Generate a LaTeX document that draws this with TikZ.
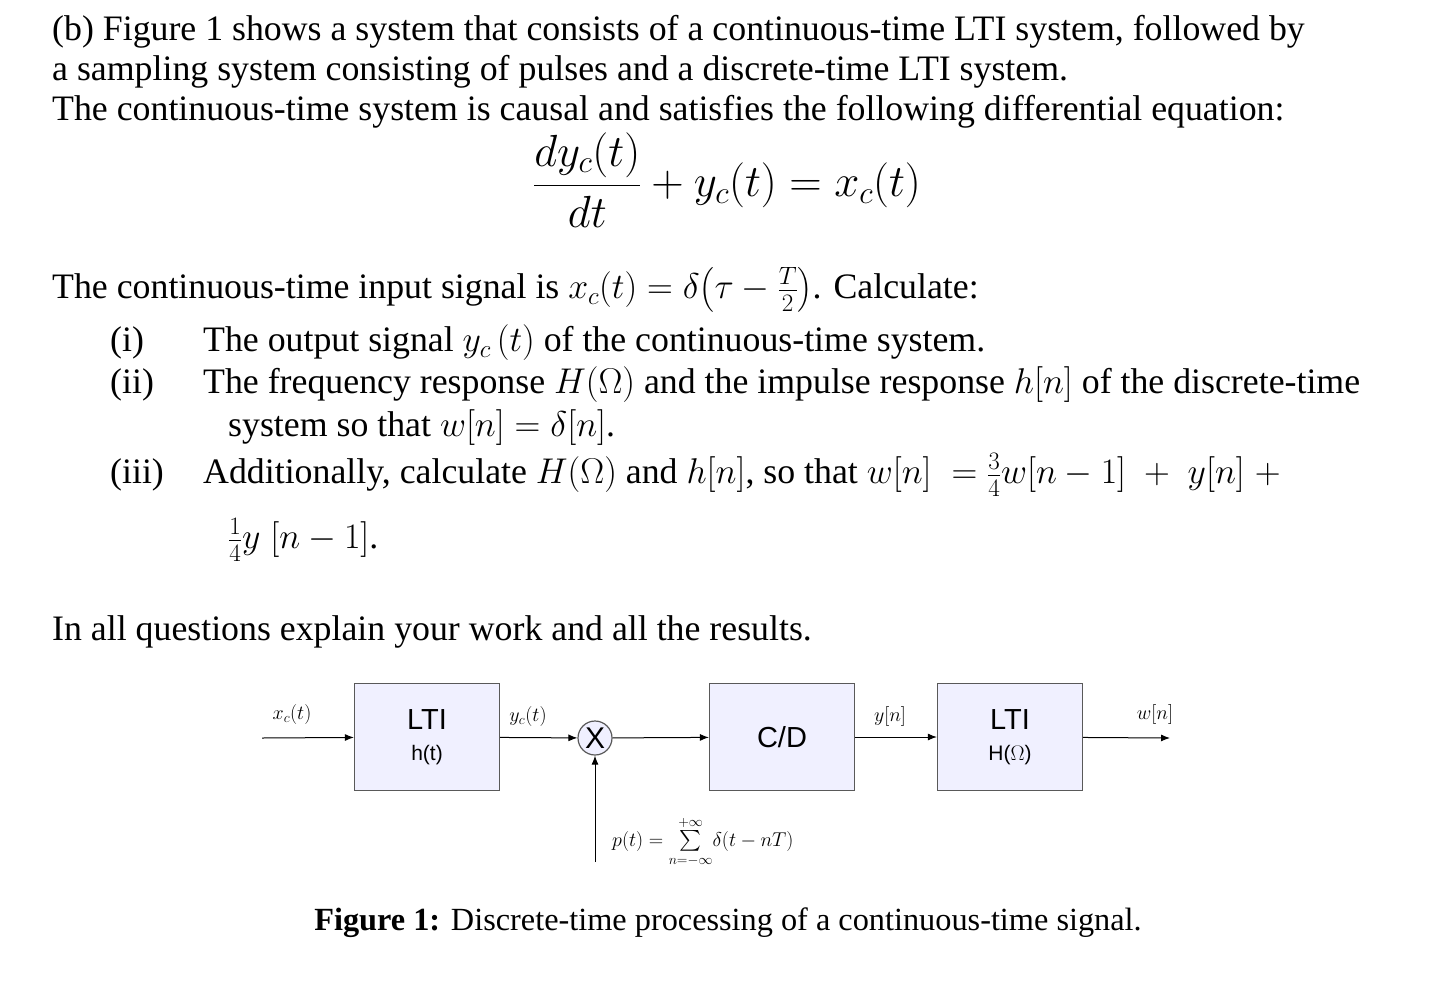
\RequirePackage{fix-cm}
\documentclass[tikz,border=0pt]{standalone}
\usepackage{amsmath}
\usepackage{fontspec}
\setmainfont{Liberation Serif}
\setsansfont{Liberation Sans}
\usetikzlibrary{arrows.meta}
\begin{document}
\begin{tikzpicture}[x=1pt,y=-1pt,
  txt/.style={anchor=west,inner sep=0pt,font=\fontsize{35.8}{40}\selectfont},
  blk/.style={draw=gray!70!black,fill=blue!6,line width=1.2pt,minimum width=145pt,minimum height=107pt,font=\sffamily\fontsize{29}{33}\selectfont,align=center},
  sig/.style={font=\fontsize{20}{24}\selectfont,inner sep=0pt},
  arr/.style={-{Latex[length=9pt,width=7pt]},line width=1pt}]
\useasboundingbox (0,0) rectangle (1442,988);
\node[txt] (l1) at (52,32) {(b) Figure 1 shows a system that consists of a continuous-time LTI system, followed by};
\node[txt] (l2) at (52,72) {a sampling system consisting of pulses and a discrete-time LTI system.};
\node[txt] (l3) at (52,112) {The continuous-time system is causal and satisfies the following differential equation:};
\node[txt,anchor=center,font=\fontsize{45}{48}\selectfont] (eq) at (727,180) {$\displaystyle\frac{dy_c(t)}{dt}+y_c(t)=x_c(t)$};
\node[txt] (l4) at (52,290) {The continuous-time input signal is $x_c(t)=\delta\bigl(\tau-\tfrac{T}{2}\bigr)$. Calculate:};
\node[txt] (i1) at (110,343) {(i)};
\node[txt] (i1t) at (203,343) {The output signal $y_c\,(t)$ of the continuous-time system.};
\node[txt] (i2) at (110,385) {(ii)};
\node[txt] (i2t) at (203,385) {The frequency response $H(\Omega)$ and the impulse response $h[n]$ of the discrete-time};
\node[txt] (i2u) at (228,428) {system so that $w[n]=\delta[n]$.};
\node[txt] (i3) at (110,475) {(iii)};
\node[txt] (i3t) at (203,475) {Additionally, calculate $H(\Omega)$ and $h[n]$, so that $w[n]\;=\tfrac{3}{4}w[n-1]\;+\;y[n]\;+$};
\node[txt] (i3u) at (228,540) {$\tfrac{1}{4}y\;[n-1]$.};
\node[txt] (l5) at (52,632) {In all questions explain your work and all the results.};

\node[blk] (lti1) at (427,737) {LTI\\[-2pt]{\fontsize{21}{24}\selectfont h(t)}};
\node[blk] (cd) at (782,737) {C/D};
\node[blk] (lti2) at (1010,737) {LTI\\[-2pt]{\fontsize{21}{24}\selectfont H($\Omega$)}};
\node[draw=gray!70!black,fill=blue!6,line width=1.2pt,circle,minimum size=34pt,inner sep=0pt,font=\sffamily\fontsize{30}{33}\selectfont] (mul) at (595,738) {X};
\coordinate (in) at (262,738);
\coordinate (out) at (1170,738);
\coordinate (pb) at (595,862);
\draw[arr] (in) -- (lti1);
\draw[arr] (lti1) -- (mul);
\draw[arr] (mul) -- (cd);
\draw[arr] (cd) -- (lti2);
\draw[arr] (lti2) -- (out);
\draw[arr] (pb) -- (mul);
\node[sig] (xc) at (292,714) {$x_c(t)$};
\node[sig] (yc) at (528,716) {$y_c(t)$};
\node[sig] (yn) at (890,716) {$y[n]$};
\node[sig] (wn) at (1155,714) {$w[n]$};
\node[sig,anchor=west] (pt) at (612,842) {$p(t)=\sum\limits_{n=-\infty}^{+\infty}\!\delta(t-nT)$};
\node[anchor=center,inner sep=0pt,font=\fontsize{32.3}{36}\selectfont] (cap) at (728,923) {\textbf{Figure 1:} Discrete-time processing of a continuous-time signal.};
\end{tikzpicture}
\end{document}
